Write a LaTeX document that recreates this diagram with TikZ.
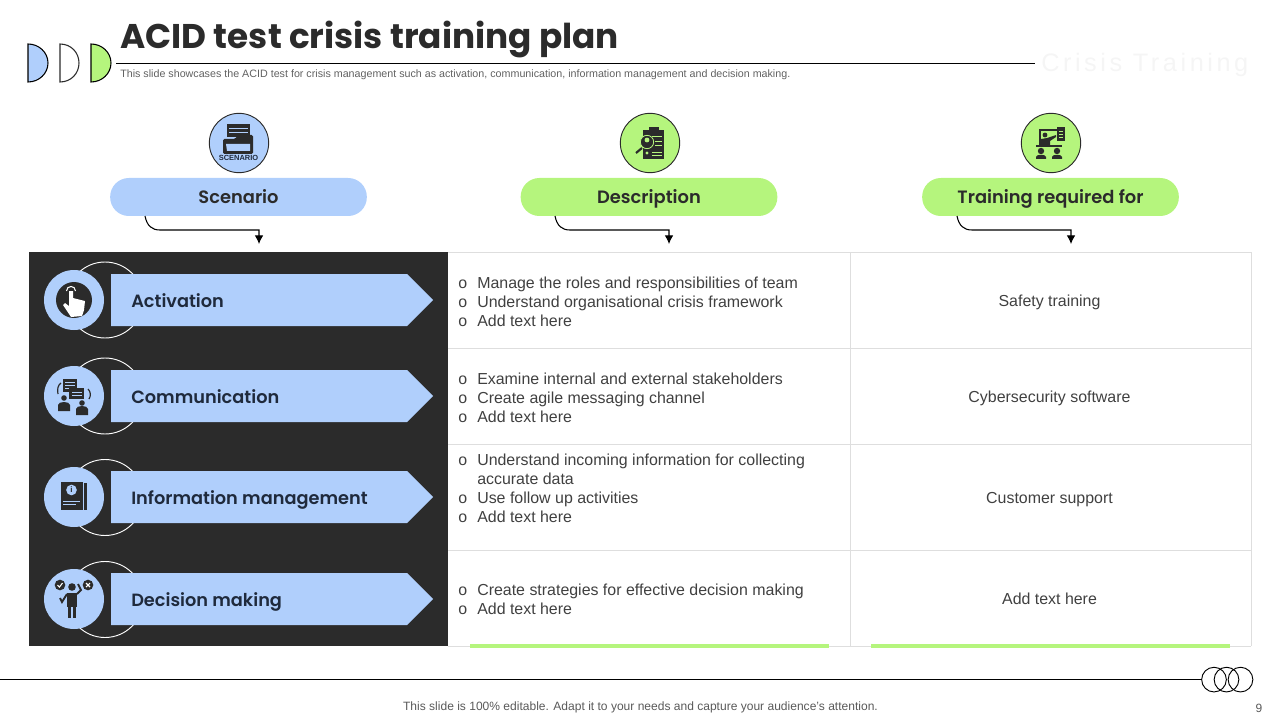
\documentclass[tikz,border=0pt]{standalone}
\usepackage{fontspec}
\setmainfont{Liberation Sans}
\newfontfamily\headfont{Poppins SemiBold}
\newfontfamily\titlefont{Poppins}
\usetikzlibrary{arrows.meta}
\definecolor{acidblue}{HTML}{B0CFFC}
\definecolor{acidgreen}{HTML}{B5F57D}
\definecolor{aciddark}{HTML}{2B2B2B}
\definecolor{acidnavy}{HTML}{1F2A3C}
\definecolor{acidgrid}{HTML}{DEDEDE}
\definecolor{acidtext}{HTML}{404040}
\newcommand{\bul}{\makebox[14.25pt][l]{o}}
\tikzset{
  halfmoon/.style={draw=black,line width=0.8pt},
  headdisc/.style={shape=circle,draw=aciddark,line width=0.7pt,minimum size=44.5pt,inner sep=0pt},
  headpill/.style={shape=rectangle,rounded corners=14pt,minimum width=192.5pt,minimum height=28.5pt,inner sep=0pt,
    text height=13pt,text depth=3pt,font=\headfont\fontsize{13.4}{16}\selectfont,text=aciddark},
  flowline/.style={draw=black,line width=0.8pt,-{Latex[length=6.5pt,width=6.5pt]}},
  gridline/.style={draw=acidgrid,line width=0.7pt},
  strip/.style={draw=acidgreen,line width=2.4pt},
  rowring/.style={shape=circle,draw=white,line width=0.7pt,minimum size=57pt,inner sep=0pt},
  rowarrow/.style={fill=acidblue},
  rowdisc/.style={shape=circle,fill=acidblue,minimum size=45pt,inner sep=0pt},
  rowlabel/.style={anchor=base west,inner sep=0pt,font=\headfont\fontsize{13.3}{16}\selectfont,text=acidnavy},
  celllist/.style={anchor=west,align=left,inner sep=0pt,text=acidtext,font=\fontsize{11.95}{14.25}\selectfont},
  cellmid/.style={anchor=base,inner sep=0pt,text=acidtext,font=\fontsize{11.95}{14.25}\selectfont},
  icon/.style={fill=aciddark,draw=none},
  iconline/.style={draw=acidblue,line width=0.6pt},
  iconglow/.style={draw=acidgreen,line width=0.6pt},
}
\begin{document}
\begin{tikzpicture}[x=0.75pt,y=-0.75pt]
\useasboundingbox (0,0) rectangle (1280,720);
% title block
\path[halfmoon,fill=acidblue] (28,44) .. controls (39,44) and (48,52.5) .. (48,63) .. controls (48,73.5) and (39,82) .. (28,82) -- cycle;
\path[halfmoon,draw=aciddark,fill=white] (60,44) .. controls (71,44) and (79,52.5) .. (79,63) .. controls (79,73.5) and (71,82) .. (60,82) -- cycle;
\path[halfmoon,fill=acidgreen] (91,44) .. controls (102,44) and (111,52.5) .. (111,63) .. controls (111,73.5) and (102,82) .. (91,82) -- cycle;
\node[anchor=base west,inner sep=0pt,text=aciddark,font=\titlefont\bfseries\fontsize{25.7}{30}\selectfont] (title) at (120,48.5) {ACID test crisis training plan};
\draw[black,line width=0.7pt] (116,63.5) -- (1035,63.5);
\node[anchor=base west,inner sep=0pt,text=black!62,font=\fontsize{8.03}{10}\selectfont] (subtitle) at (120,78) {This slide showcases the ACID test for crisis management such as activation, communication, information management and decision making.};
\node[anchor=base west,inner sep=0pt,text=black!4,font=\addfontfeature{LetterSpace=14}\fontsize{19}{22}\selectfont] (mark) at (1041,72) {Crisis Training};

% column heads
\node[headdisc,fill=acidblue] (scendisc) at (239,143) {};
\node[headdisc,fill=acidgreen] (descdisc) at (650,143) {};
\node[headdisc,fill=acidgreen] (traindisc) at (1051,143) {};
\node[headpill,fill=acidblue] (scen) at (238.5,197) {Scenario};
\node[headpill,fill=acidgreen] (desc) at (649,197) {Description};
\node[headpill,fill=acidgreen] (train) at (1050.5,197) {Training required for};
\coordinate (scena) at (145,216);
\coordinate (scenb) at (259,244);
\coordinate (desca) at (555,216);
\coordinate (descb) at (669,244);
\coordinate (traina) at (957,216);
\coordinate (trainb) at (1071,244);
\draw[flowline] (scena) .. controls (147,226) and (152,230) .. (160,230) -| (scenb);
\draw[flowline] (desca) .. controls (557,226) and (562,230) .. (570,230) -| (descb);
\draw[flowline] (traina) .. controls (959,226) and (964,230) .. (972,230) -| (trainb);

% scenario icon
\fill[icon] (227,124) rectangle (250,137);
\draw[iconline] (229,128) -- (248,128);
\draw[iconline] (229,132) -- (248,132);
\fill[icon,rounded corners=1pt] (223,154) -- (223,139) -- (235,139) -- (238,135) -- (253,135) -- (253,154) -- cycle;
\fill[acidblue] (227,151) -- (226,144) -- (250,144) -- (250,151) -- cycle;
\node[inner sep=0pt,text=acidnavy,font=\bfseries\fontsize{5.6}{6}\selectfont] (scenword) at (238.5,158) {SCENARIO};

% description icon
\fill[icon] (643,130) rectangle (664,159);
\fill[icon] (649,127) rectangle (659,132);
\draw[iconglow] (652,136) -- (662,136);
\draw[iconglow] (655,141) -- (662,141);
\draw[iconglow] (655,145) -- (662,145);
\draw[iconglow] (652,152) -- (662,152);
\draw[iconglow] (652,155) -- (662,155);
\node[shape=circle,draw=acidgreen,line width=0.6pt,fill=aciddark,minimum size=10pt,inner sep=0pt] (lens) at (647,142) {};
\fill[acidgreen] (647,140) circle (2.4);
\fill[acidgreen] (647,153) circle (1.6);
\draw[aciddark,line width=1.6pt] (642,148) -- (636,153);

% training icon
\draw[aciddark,line width=1pt] (1040,146) -- (1040,130) -- (1058,130);
\fill[icon] (1057,127) rectangle (1065,141);
\draw[iconglow] (1059,131) -- (1063,131);
\draw[iconglow] (1059,134) -- (1063,134);
\draw[iconglow] (1059,137) -- (1063,137);
\fill[icon] (1045,135) circle (2.4);
\fill[icon] (1041,146) -- (1041,139) -- (1047,138) -- (1056,135) -- (1056,137) -- (1050,141) -- (1050,146) -- cycle;
\fill[icon] (1036,145) rectangle (1062,147.5);
\fill[icon] (1041,151) circle (3.2);
\fill[icon] (1057,151) circle (3.2);
\fill[icon] (1036,159) -- (1036,157) .. controls (1036,154) and (1046,154) .. (1046,157) -- (1046,159) -- cycle;
\fill[icon] (1052,159) -- (1052,157) .. controls (1052,154) and (1062,154) .. (1062,157) -- (1062,159) -- cycle;

% table
\fill[aciddark] (29,252) rectangle (448,646);
\draw[gridline] (448,252) -- (1251,252);
\draw[gridline] (448,348.5) -- (1251,348.5);
\draw[gridline] (448,444.5) -- (1251,444.5);
\draw[gridline] (448,550.5) -- (1251,550.5);
\draw[gridline] (448,646) -- (1251,646);
\draw[gridline] (850,252) -- (850,646);
\draw[gridline] (1251,252) -- (1251,646);
\draw[strip] (470,646) -- (829,646);
\draw[strip] (871,646) -- (1230,646);

% rows
\node[rowring] (actring) at (105,300) {};
\node[rowring] (comring) at (105,396) {};
\node[rowring] (infring) at (105,497.5) {};
\node[rowring] (decring) at (105,599.5) {};
\fill[rowarrow] (111,274) -- (407,274) -- (433,300) -- (407,326) -- (111,326) -- cycle;
\fill[rowarrow] (111,370) -- (407,370) -- (433,396) -- (407,422) -- (111,422) -- cycle;
\fill[rowarrow] (111,471) -- (407,471) -- (433,497) -- (407,523) -- (111,523) -- cycle;
\fill[rowarrow] (111,573) -- (407,573) -- (433,599) -- (407,625) -- (111,625) -- cycle;
\node[rowdisc] (actdisc) at (74,300) {};
\node[rowdisc] (comdisc) at (74,396) {};
\node[rowdisc] (infdisc) at (74,497) {};
\node[rowdisc] (decdisc) at (74,599) {};
\node[rowlabel] (act) at (131,307) {Activation};
\node[rowlabel] (com) at (131,403) {Communication};
\node[rowlabel] (inf) at (131,504) {Information management};
\node[rowlabel] (dec) at (131,606) {Decision making};

% activation icon
\node[shape=circle,fill=aciddark,minimum size=27pt,inner sep=0pt] (handdisc) at (74,300) {};
\fill[white] (69,291) -- (73,291) -- (73,298) -- (85,301) -- (84,310) -- (82,316) -- (71,317) -- (63,305) -- (65,303) -- (69,306) -- cycle;
\draw[white,line width=0.8pt] (66.5,291) .. controls (66.5,285) and (75.5,285) .. (75.5,291);

% communication icon
\fill[icon] (63,379) rectangle (77,392);
\draw[iconline] (65,382) -- (75,382);
\draw[iconline] (65,385) -- (75,385);
\draw[iconline] (65,388) -- (75,388);
\fill[icon] (69,388) rectangle (84,399);
\draw[iconline] (72,392) -- (82,392);
\draw[iconline] (72,395) -- (82,395);
\fill[icon] (64,398) circle (2.8);
\fill[icon] (82,403) circle (2.8);
\fill[icon] (58,411) -- (58,405) .. controls (58,401) and (70,401) .. (70,405) -- (70,411) -- cycle;
\fill[icon] (76,415) -- (76,409) .. controls (76,405) and (88,405) .. (88,409) -- (88,415) -- cycle;
\draw[aciddark,line width=0.9pt] (58,394) .. controls (57,389) and (58,385) .. (61,383);
\draw[aciddark,line width=0.9pt] (88,389) .. controls (91,392) and (91,396) .. (89,399);

% information icon
\fill[icon] (64,483) rectangle (87,510);
\fill[icon,draw=acidblue,line width=0.5pt] (60,481) rectangle (83,510);
\node[shape=circle,fill=acidblue,minimum size=8pt,inner sep=0pt,font=\bfseries\fontsize{6}{6}\selectfont,text=aciddark] (infodot) at (71.5,490) {i};
\draw[iconline] (63,501) -- (80,501);
\draw[iconline] (63,504) -- (76,504);

% decision icon
\fill[icon] (72,587) circle (3.8);
\fill[icon] (67,593) rectangle (77,607);
\fill[icon] (68,607) rectangle (71,618);
\fill[icon] (73,607) rectangle (76,618);
\draw[aciddark,line width=1.4pt] (67,594) -- (62,602) -- (60,598);
\draw[aciddark,line width=1.4pt] (77,594) -- (81,590) -- (78,584);
\node[shape=circle,fill=aciddark,minimum size=8pt,inner sep=0pt] (yes) at (60,585) {};
\node[shape=circle,fill=aciddark,minimum size=8pt,inner sep=0pt] (no) at (88,585) {};
\draw[white,line width=0.8pt] (57.5,585) -- (59.5,587) -- (62.5,583);
\draw[white,line width=0.8pt] (86,583) -- (90,587) (90,583) -- (86,587);

% cells
\node[celllist] (actlist) at (458,301.7) {\bul Manage the roles and responsibilities of team\\\bul Understand organisational crisis framework\\\bul Add text here};
\node[celllist] (comlist) at (458,397.7) {\bul Examine internal and external stakeholders\\\bul Create agile messaging channel\\\bul Add text here};
\node[celllist] (inflist) at (458,488.2) {\bul Understand incoming information for collecting\\\hspace*{14.25pt}accurate data\\\bul Use follow up activities\\\bul Add text here};
\node[celllist] (declist) at (458,599.2) {\bul Create strategies for effective decision making\\\bul Add text here};
\node[cellmid] (actneed) at (1049.5,306.5) {Safety training};
\node[cellmid] (comneed) at (1049.5,402.5) {Cybersecurity software};
\node[cellmid] (infneed) at (1049.5,503.5) {Customer support};
\node[cellmid] (decneed) at (1049.5,604.5) {Add text here};

% footer
\draw[black,line width=0.7pt] (0,679.6) -- (1202,679.6);
\node[shape=circle,draw=black,line width=0.7pt,minimum size=18.5pt,inner sep=0pt] (ringa) at (1214,679.6) {};
\node[shape=circle,draw=black,line width=0.7pt,minimum size=18.5pt,inner sep=0pt] (ringb) at (1226.5,679.6) {};
\node[shape=circle,draw=black,line width=0.7pt,minimum size=18.5pt,inner sep=0pt] (ringc) at (1240.5,679.6) {};
\node[anchor=base,inner sep=0pt,text=black!65,font=\fontsize{9.03}{11}\selectfont] (foot) at (640.5,710) {This slide is 100\% editable. Adapt it to your needs and capture your audience's attention.};
\node[anchor=base,inner sep=0pt,text=black!65,font=\fontsize{9}{11}\selectfont] (page) at (1259,712) {9};
\end{tikzpicture}
\end{document}
